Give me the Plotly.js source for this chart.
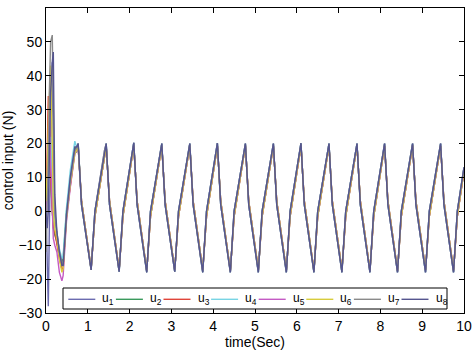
<!DOCTYPE html>
<html>
<head>
<meta charset="utf-8">
<script src="https://cdn.plot.ly/plotly-3.0.1.min.js"></script>
<style>html,body{margin:0;padding:0;background:#fff;}#chart{width:474px;height:352px;}</style>
</head>
<body>
<div id="chart"></div>
<script>
// ---- data ----
// transient part (shared time samples)
var tStart = [0, 0.03, 0.055, 0.08, 0.11, 0.15, 0.175, 0.21, 0.26, 0.32, 0.38, 0.41, 0.49, 0.58, 0.69, 0.73, 0.77];
var u1Start = [0, -12, -28, -5, 20, 44, 20, -2, -7, -12, -15, -16, -2, 8, 18, 17.5, 19];
var u2Start = [0, 8, 15, 22, 10, 0, -5, -7, -9, -13, -15, -14, 0, 9, 19, 18, 19.5];
var u3Start = [0, 20, 34, 30, 10, 0, -4, -6, -10, -14, -17, -17, -1, 8, 17.5, 18, 19];
var u4Start = [0, 5, 12, 18, 22, 10, 0, -5, -7, -11, -14, -13, 1, 12, 20.7, 19, 20];
var u5Start = [0, 10, 20, 28, 15, 0, -8, -10, -12, -18, -20.5, -19, -3, 7, 17, 18, 19];
var u6Start = [3, 12, 25, 35, 43, 20, 0, -5, -8, -14, -18, -17, -2, 8, 17, 18, 19];
var u7Start = [-12, 0, 15, 35, 50, 52, 30, 0, -6, -12, -15, -16, -1, 9, 18, 18.5, 20];
var u8Start = [0, -5, 0, 15, 35, 44, 47, 5, -6, -12, -16, -16, -1, 10, 19, 19, 20];

// steady oscillation (shared time samples)
var tSteady = [
  0.85, 1.08, 1.17, 1.40, 1.44,
  1.52, 1.75, 1.84, 2.07, 2.10,
  2.18, 2.41, 2.50, 2.74, 2.77,
  2.85, 3.08, 3.17, 3.40, 3.44,
  3.52, 3.75, 3.84, 4.07, 4.10,
  4.18, 4.41, 4.50, 4.74, 4.77,
  4.85, 5.08, 5.17, 5.40, 5.44,
  5.52, 5.75, 5.84, 6.07, 6.10,
  6.18, 6.41, 6.50, 6.74, 6.77,
  6.85, 7.08, 7.17, 7.40, 7.44,
  7.52, 7.75, 7.84, 8.07, 8.10,
  8.18, 8.41, 8.50, 8.74, 8.77,
  8.85, 9.08, 9.17, 9.40, 9.44,
  9.52, 9.75, 9.84, 10.0];
var steadyLead = [
  2, -17.3, 0, 18, 20,
  2, -17.8, 0, 18, 20.2,
  2, -18, 0, 18.3, 20,
  2, -17.8, 0, 18, 20,
  2, -18, 0, 18, 20.1,
  2, -18, 0, 18.2, 20,
  2, -18, 0, 18, 20,
  2, -18, 0, 18, 20.1,
  2, -18, 0, 18, 20,
  2, -18, 0, 18.2, 20,
  2, -18, 0, 18, 20,
  2, -18, 0, 18, 20,
  2, -18, 0, 18, 20,
  2, -18, 0, 13];
var steadyLag = [
  3, -17, -1.5, 17, 19.2,
  3, -17.3, -1.5, 17, 19.4,
  3, -17.5, -1.5, 17, 19.3,
  3, -17.3, -1.5, 17.3, 19.4,
  3, -17.4, -1.5, 17, 19.3,
  3, -17.5, -1.5, 17, 19.4,
  3, -17.3, -1.5, 17, 19.3,
  3, -17.4, -1.5, 17, 19.4,
  3, -17.5, -1.5, 17, 19.3,
  3, -17.3, -1.5, 17, 19.4,
  3, -17.4, -1.5, 17, 19.3,
  3, -17.5, -1.5, 17, 19.4,
  3, -17.3, -1.5, 17, 19.3,
  3, -17.4, -1.5, 12];

var names = ['u<sub>1</sub>','u<sub>2</sub>','u<sub>3</sub>','u<sub>4</sub>','u<sub>5</sub>','u<sub>6</sub>','u<sub>7</sub>','u<sub>8</sub>'];
var colors = ['#6b6bb0', '#3a9a5c', '#e0453a', '#78d4e4', '#c45ac4', '#d8cc3c', '#8a8a8a', '#55558f'];

var starts = [u1Start, u2Start, u3Start, u4Start, u5Start, u6Start, u7Start, u8Start];
var steadyOf = [steadyLead, steadyLag, steadyLag, steadyLead, steadyLag, steadyLag, steadyLead, steadyLead];

var tAll = tStart.concat(tSteady);
var traces = [];
for (var i = 0; i < 8; i++) {
  traces.push({
    x: tAll,
    y: starts[i].concat(steadyOf[i]),
    type: 'scatter',
    mode: 'lines',
    name: names[i],
    line: {color: colors[i], width: 1.4},
    hoverinfo: 'skip'
  });
}

var fam = '"Liberation Sans", Arial, sans-serif';

// legend drawn as a boxed row (plot-area fractions)
var plotW = 418, plotH = 305;
var legLeft = 17, legRight = 401, legTop = 25, legBottom = 4;   // px from plot left / plot bottom
var shapes = [{
  type: 'rect', xref: 'paper', yref: 'paper',
  x0: legLeft / plotW, x1: legRight / plotW, y0: legBottom / plotH, y1: legTop / plotH,
  line: {color: '#000', width: 1}, fillcolor: '#fff', layer: 'above'
}];
var annotations = [];
var rowY = 13.7 / plotH;
for (var k = 0; k < 8; k++) {
  var sx = 22.3 + 47.6 * k;
  shapes.push({
    type: 'line', xref: 'paper', yref: 'paper',
    x0: sx / plotW, x1: (sx + 27) / plotW, y0: rowY, y1: rowY,
    line: {color: colors[k], width: 1.4}, layer: 'above'
  });
  annotations.push({
    xref: 'paper', yref: 'paper', x: (sx + 32) / plotW, y: rowY,
    xanchor: 'left', yanchor: 'middle', showarrow: false,
    text: names[k], font: {family: fam, size: 12, color: '#000'}
  });
}

var layout = {
  width: 474, height: 352,
  margin: {l: 46, r: 10, t: 8, b: 39, pad: 0},
  paper_bgcolor: '#fff', plot_bgcolor: '#fff',
  font: {family: fam, size: 13, color: '#000'},
  showlegend: false,
  shapes: shapes,
  annotations: annotations,
  xaxis: {
    range: [0, 10], tickvals: [0,1,2,3,4,5,6,7,8,9,10], ticktext: ['0','1','2','3','4','5','6','7','8','9','10'],
    ticks: 'inside', ticklen: 5, tickcolor: '#000', showline: true, linecolor: '#000', linewidth: 1,
    mirror: 'ticks', showgrid: false, zeroline: false,
    tickfont: {family: fam, size: 14, color: '#000'},
    title: {text: 'time(Sec)', font: {family: fam, size: 14, color: '#000'}, standoff: 1}
  },
  yaxis: {
    range: [-30, 60], tickvals: [-30,-20,-10,0,10,20,30,40,50,60],
    ticks: 'inside', ticklen: 5, tickcolor: '#000', showline: true, linecolor: '#000', linewidth: 1,
    mirror: 'ticks', showgrid: false, zeroline: false,
    tickfont: {family: fam, size: 14, color: '#000'},
    title: {text: 'control input (N)', font: {family: fam, size: 14, color: '#000'}, standoff: 4}
  }
};

Plotly.newPlot('chart', traces, layout, {displayModeBar: false, staticPlot: true});
</script>
</body>
</html>
